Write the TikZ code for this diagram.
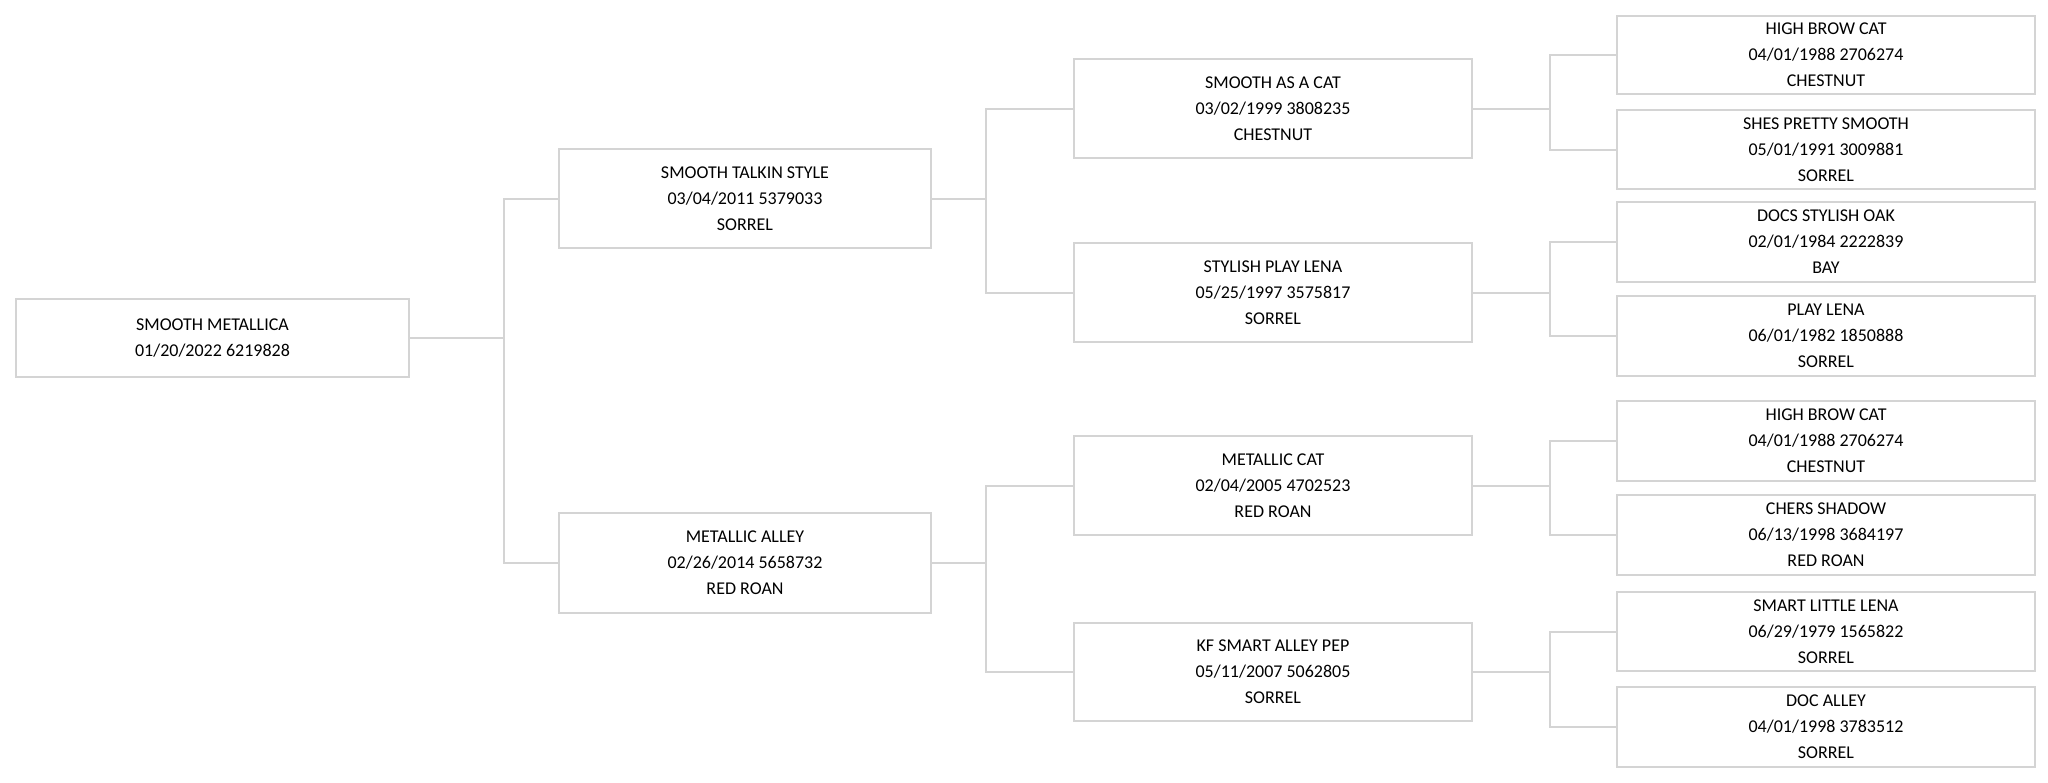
\documentclass[tikz,border=0pt]{standalone}
\usepackage{fontspec}
\setmainfont{Carlito}
\begin{document}
\begin{tikzpicture}[x=1pt,y=-1pt,
 box/.style={draw=boxgray,line width=2pt,align=center,font=\fontsize{18}{26}\selectfont,inner sep=0pt},
 ln/.style={draw=boxgray,line width=2pt}]
\definecolor{boxgray}{HTML}{D4D4D4}
\useasboundingbox (0,0) rectangle (2048,782);
\newcommand{\hb}[6]{\node[box,minimum width=#3-#2,minimum height=#5-#4] (#1) at ({(#2+#3)/2},{(#4+#5)/2}) {#6};}
\hb{r}{16}{409}{299}{377}{SMOOTH METALLICA\\01/20/2022 6219828}
\hb{a}{559}{931}{149}{248}{SMOOTH TALKIN STYLE\\03/04/2011 5379033\\SORREL}
\hb{b}{559}{931}{513}{613}{METALLIC ALLEY\\02/26/2014 5658732\\RED ROAN}
\hb{aa}{1074}{1472}{59}{158}{SMOOTH AS A CAT\\03/02/1999 3808235\\CHESTNUT}
\hb{ab}{1074}{1472}{243}{342}{STYLISH PLAY LENA\\05/25/1997 3575817\\SORREL}
\hb{ba}{1074}{1472}{436}{535}{METALLIC CAT\\02/04/2005 4702523\\RED ROAN}
\hb{bb}{1074}{1472}{623}{721}{KF SMART ALLEY PEP\\05/11/2007 5062805\\SORREL}
\hb{aaa}{1617}{2035}{16}{94}{HIGH BROW CAT\\04/01/1988 2706274\\CHESTNUT}
\hb{aab}{1617}{2035}{110}{189}{SHES PRETTY SMOOTH\\05/01/1991 3009881\\SORREL}
\hb{aba}{1617}{2035}{202}{282}{DOCS STYLISH OAK\\02/01/1984 2222839\\BAY}
\hb{abb}{1617}{2035}{296}{376}{PLAY LENA\\06/01/1982 1850888\\SORREL}
\hb{baa}{1617}{2035}{401}{481}{HIGH BROW CAT\\04/01/1988 2706274\\CHESTNUT}
\hb{bab}{1617}{2035}{495}{575}{CHERS SHADOW\\06/13/1998 3684197\\RED ROAN}
\hb{bba}{1617}{2035}{592}{671}{SMART LITTLE LENA\\06/29/1979 1565822\\SORREL}
\hb{bbb}{1617}{2035}{687}{767}{DOC ALLEY\\04/01/1998 3783512\\SORREL}
\newcommand{\fk}[4]{\draw[ln] (#1.east) -- (#4,0 |- #1.east);
 \draw[ln] (#2.west) -| (#4,0 |- #1.east) |- (#3.west);}
\fk{r}{a}{b}{504}
\fk{a}{aa}{ab}{986}
\fk{b}{ba}{bb}{986}
\fk{aa}{aaa}{aab}{1550}
\fk{ab}{aba}{abb}{1550}
\fk{ba}{baa}{bab}{1550}
\fk{bb}{bba}{bbb}{1550}
\end{tikzpicture}
\end{document}
